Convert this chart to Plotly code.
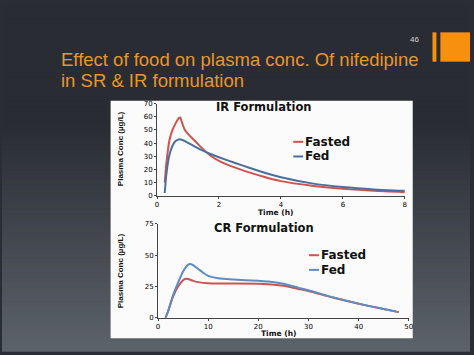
import plotly.graph_objects as go

# ---- data ----
ir_fasted_t = [0.25, 0.3, 0.4, 0.5, 0.6, 0.7, 0.75, 0.8, 0.9, 1.0, 1.25, 1.5, 1.75, 2, 2.5, 3, 3.5, 4, 5, 6, 7, 8]
ir_fasted_c = [10, 24, 42, 50, 55, 59, 59.5, 56, 50, 47, 41, 35, 30, 26.5, 21.5, 17.5, 14, 11, 7.5, 5.2, 3.6, 2.6]
ir_fed_t = [0.25, 0.3, 0.4, 0.5, 0.6, 0.7, 0.8, 0.9, 1.0, 1.25, 1.5, 1.75, 2, 2.5, 3, 3.5, 4, 5, 6, 7, 8]
ir_fed_c = [2, 16, 31, 38, 41.5, 42.8, 42.5, 41.5, 40.2, 37, 34, 31.5, 29.2, 25, 21, 17.2, 14, 9.3, 6.5, 4.7, 3.6]

cr_fasted_t = [1.5, 2, 3, 4, 5, 5.5, 6, 7, 8, 10, 12, 15, 20, 22, 25, 28, 30, 35, 40, 45, 48]
cr_fasted_c = [0, 5, 17, 25, 30, 31.2, 31, 29.5, 28.5, 27.5, 27.3, 27.3, 27.2, 26.8, 25.5, 23, 21.3, 16, 11.2, 7, 4.5]
cr_fed_t = [1.5, 2, 3, 4, 5, 6, 6.5, 7, 8, 9, 10, 12, 15, 20, 22, 25, 28, 30, 35, 40, 45, 48]
cr_fed_c = [0, 5, 18, 28, 37, 42.5, 43, 42, 39, 36, 33.5, 31.5, 30.5, 29.5, 29, 27.2, 24, 22, 16.3, 11.3, 7, 4.5]

ir_y_ticks = [0, 10, 20, 30, 40, 50, 60, 70]
ir_x_ticks = [0, 2, 4, 6, 8]
cr_y_ticks = [0, 25, 50, 75]
cr_x_ticks = [0, 10, 20, 30, 40, 50]

slide_title = ["Effect of food on plasma conc. Of nifedipine", "in SR & IR formulation"]
page_no = "46"

W, H = 474, 355
RED = "#d0524c"
BLUE_IR = "#4a6f9e"
BLUE_CR = "#5b8cc4"
TICKFONT = dict(family="DejaVu Sans", size=7, color="#000")


def px(x):
    return x / W


def py(y):
    return 1 - y / H


fig = go.Figure()
spl = dict(shape="spline", smoothing=0.6, width=2)
fig.add_trace(go.Scatter(x=ir_fasted_t, y=ir_fasted_c, mode="lines", line=dict(color=RED, **spl),
                         xaxis="x", yaxis="y", showlegend=False))
fig.add_trace(go.Scatter(x=ir_fed_t, y=ir_fed_c, mode="lines", line=dict(color=BLUE_IR, **spl),
                         xaxis="x", yaxis="y", showlegend=False))
fig.add_trace(go.Scatter(x=cr_fasted_t, y=cr_fasted_c, mode="lines", line=dict(color=RED, **spl),
                         xaxis="x2", yaxis="y2", showlegend=False))
fig.add_trace(go.Scatter(x=cr_fed_t, y=cr_fed_c, mode="lines", line=dict(color=BLUE_CR, **spl),
                         xaxis="x2", yaxis="y2", showlegend=False))

shapes = []
# background gradient
n = 71
top = (41, 44, 51)
bot = (92, 98, 106)
for i in range(n):
    f = i / (n - 1)
    f2 = max(0.0, (f - 0.35) / 0.65)
    c = tuple(round(top[k] + (bot[k] - top[k]) * f2) for k in range(3))
    shapes.append(dict(type="rect", xref="paper", yref="paper", x0=0, x1=1,
                       y0=1 - (i + 1) / n - 0.002, y1=1 - i / n, line=dict(width=0),
                       fillcolor="rgb(%d,%d,%d)" % c, layer="below"))
# orange accent
shapes.append(dict(type="rect", xref="paper", yref="paper", x0=px(436), x1=px(440), y0=py(59), y1=py(29),
                   line=dict(width=0), fillcolor="#f7900f", layer="below"))
shapes.append(dict(type="rect", xref="paper", yref="paper", x0=px(444), x1=1, y0=py(59), y1=py(29),
                   line=dict(width=0), fillcolor="#f7900f", layer="below"))
# white picture panel
shapes.append(dict(type="rect", xref="paper", yref="paper", x0=px(110), x1=px(416), y0=py(342), y1=py(99),
                   line=dict(width=0), fillcolor="#fbfbfb", layer="below"))
# legend keys
for (x0, x1, y, col) in [(295, 305, 141, RED), (295, 305, 156, BLUE_IR),
                         (311, 321, 257, RED), (311, 321, 272, BLUE_CR)]:
    shapes.append(dict(type="line", xref="paper", yref="paper", x0=px(x0), x1=px(x1), y0=py(y), y1=py(y),
                       line=dict(color=col, width=2)))

ann = []
ann.append(dict(text=slide_title[0], x=px(58), y=py(57), xanchor="left", yanchor="middle",
                font=dict(family="Liberation Sans, Arial", size=18.5, color="#e8962a")))
ann.append(dict(text=slide_title[1], x=px(58), y=py(78), xanchor="left", yanchor="middle",
                font=dict(family="Liberation Sans, Arial", size=18.5, color="#e8962a")))
ann.append(dict(text=page_no, x=px(418), y=py(36), xanchor="center", yanchor="middle",
                font=dict(family="Liberation Sans, Arial", size=8, color="#d8d8d8")))
# chart titles
ann.append(dict(text="<b>IR Formulation</b>", x=px(265), y=py(105), xanchor="center", yanchor="middle",
                font=dict(family="DejaVu Sans", size=11.5, color="#111")))
ann.append(dict(text="<b>CR Formulation</b>", x=px(265), y=py(229), xanchor="center", yanchor="middle",
                font=dict(family="DejaVu Sans", size=11.5, color="#111")))
# legends
for (txt, x, y) in [("Fasted", 305, 141), ("Fed", 305, 156), ("Fasted", 321, 257), ("Fed", 321, 272)]:
    ann.append(dict(text="<b>%s</b>" % txt, x=px(x), y=py(y), xanchor="left", yanchor="middle",
                    font=dict(family="DejaVu Sans", size=12, color="#111")))
# axis titles
for (x, y) in [(277, 213), (280, 337)]:
    ann.append(dict(text="<b>Time (h)</b>", x=px(x), y=py(y), xanchor="center", yanchor="middle",
                    font=dict(family="DejaVu Sans", size=7.5, color="#111")))
for (x, y) in [(120, 148), (120, 273)]:
    ann.append(dict(text="<b>Plasma Conc (µg/L)</b>", x=px(x), y=py(y), xanchor="center", yanchor="middle",
                    textangle=-90, font=dict(family="Liberation Sans Narrow, Liberation Sans", size=8, color="#111")))
for a in ann:
    a.update(xref="paper", yref="paper", showarrow=False)

axis_common = dict(showgrid=False, zeroline=False, showline=True, linecolor="#444", linewidth=1,
                   ticks="outside", ticklen=2, tickcolor="#444", tickfont=TICKFONT,
                   tickprefix="<b>", ticksuffix="</b>")

fig.update_layout(
    width=W, height=H, autosize=False,
    margin=dict(l=0, r=0, t=0, b=0),
    paper_bgcolor="#2a2d33", plot_bgcolor="rgba(0,0,0,0)",
    shapes=shapes, annotations=ann, showlegend=False,
    xaxis=dict(domain=[px(157), px(408)], range=[0, 8], tickvals=ir_x_ticks, anchor="y", **axis_common),
    yaxis=dict(domain=[py(196), py(102)], range=[0, 70], tickvals=ir_y_ticks, anchor="x", **axis_common),
    xaxis2=dict(domain=[px(158), px(412)], range=[0, 50], tickvals=cr_x_ticks, anchor="y2", **axis_common),
    yaxis2=dict(domain=[py(321), py(225)], range=[0, 75], tickvals=cr_y_ticks, anchor="x2", **axis_common),
)

fig.write_html("out.html", config={"displayModeBar": False},
               post_script="document.body.style.margin='0';document.body.style.overflow='hidden';")
